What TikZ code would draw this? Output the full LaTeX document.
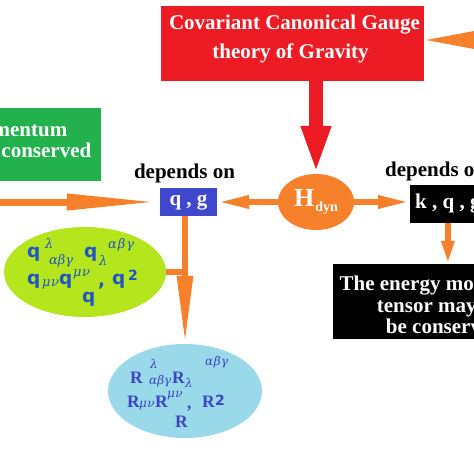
\documentclass[tikz,border=0pt]{standalone}
\usepackage{fontspec}
\setmainfont{Liberation Serif}
\newfontfamily\qf{DejaVu Sans}
\newfontfamily\gkf{DejaVu Serif}
\usetikzlibrary{arrows.meta,shapes.geometric}
\definecolor{cRed}{HTML}{ED1C24}
\definecolor{cOrg}{HTML}{F7802A}
\definecolor{cBlue}{HTML}{3F48CC}
\definecolor{cGreen}{HTML}{22B14C}
\definecolor{cLime}{HTML}{B5E61D}
\definecolor{cSky}{HTML}{99D9EA}
\definecolor{cQtxt}{HTML}{1F55C6}
\definecolor{cRtxt}{HTML}{3A46C4}
\tikzset{
  boxfont/.style={font=\bfseries\fontsize{21}{21}\selectfont},
  wtxt/.style={boxfont, text=white, inner sep=0pt},
  btxt/.style={boxfont, text=black, inner sep=0pt},
  orgline/.style={draw=cOrg, line width=6pt},
  orgarrow/.style={orgline, -{Triangle[length=32pt,width=12pt]}},
  qtx/.style={text=cQtxt, font=\qf\bfseries\fontsize{18.5}{18.5}\selectfont, inner sep=0pt, anchor=base west},
  qgk/.style={text=cQtxt, font=\gkf\itshape\fontsize{13}{13}\selectfont, inner sep=0pt, anchor=base west},
  qtwo/.style={text=cQtxt, font=\qf\bfseries\fontsize{14}{14}\selectfont, inner sep=0pt, anchor=base west},
  rtx/.style={text=cRtxt, font=\bfseries\fontsize{17.5}{17.5}\selectfont, inner sep=0pt, anchor=base west},
  rgk/.style={text=cRtxt, font=\gkf\itshape\fontsize{12}{12}\selectfont, inner sep=0pt, anchor=base west},
  rtwo/.style={text=cRtxt, font=\qf\bfseries\fontsize{14}{14}\selectfont, inner sep=0pt, anchor=base west},
}
\begin{document}
\begin{tikzpicture}[x=1pt,y=-1pt]
\useasboundingbox (0,0) rectangle (474,474);
\fill[white] (0,0) rectangle (474,474);
\clip (0,0) rectangle (474,474);

% boxes
\node[fill=cRed, minimum width=263pt, minimum height=75pt, inner sep=0pt] (ccgg) at (292.5,43.5) {};
\node[wtxt, anchor=base] (ccgt1) at (294.5,29) {Covariant Canonical Gauge};
\node[wtxt, anchor=base] (ccgt2) at (290.5,58.5) {theory of Gravity};

\node[fill=cGreen, minimum width=110pt, minimum height=73pt, inner sep=0pt] (gbox) at (46,144.5) {};
\node[wtxt, anchor=base east] (gt1) at (67.5,136) {momentum};
\node[wtxt, anchor=base east] (gt2) at (91.5,157) {is conserved};

\node[btxt, anchor=base] (dep1) at (184.5,178) {depends on};
\node[fill=cBlue, wtxt, minimum width=57pt, minimum height=28pt] (qg) at (188.5,202) {q , g};

\node[ellipse, fill=cOrg, minimum width=76pt, minimum height=56pt, inner sep=0pt,
      text=white, font=\bfseries\fontsize{26}{26}\selectfont] (hdyn) at (316,202)
      {H\kern1pt\raisebox{-5pt}{\fontsize{14}{14}\selectfont dyn}};

\node[btxt, anchor=base west] (dep2) at (385,176) {depends on};
\node[fill=black, wtxt, inner xsep=5pt, minimum height=38pt, anchor=west] (kqg) at (410,204) {k , q , g};

\node[fill=black, minimum width=222pt, minimum height=75pt, inner sep=0pt] (ebox) at (444,301.5) {};
\node[wtxt, anchor=base] (en1) at (444,290.5) {The energy momentum};
\node[wtxt, anchor=base] (en2) at (444,312) {tensor may not};
\node[wtxt, anchor=base] (en3) at (444,333.5) {be conserved};

\node[ellipse, fill=cLime, minimum width=162pt, minimum height=90pt, inner sep=0pt] (qell) at (85,272) {};
\node[ellipse, fill=cSky, minimum width=154pt, minimum height=94pt, inner sep=0pt] (rell) at (185,391) {};

% connectors
\draw[draw=cRed, line width=14pt, -{Triangle[length=48pt,width=27pt]}] (ccgg.south -| hdyn.north) -- (hdyn.north);
\coordinate (rstart) at (510,40);
\draw[orgline, -{Triangle[length=60pt,width=20pt]}] (rstart) -- (ccgg.east |- rstart);
\coordinate (lstart) at (-2,202);
\draw[draw=cOrg, line width=7pt, -{Triangle[length=93pt,width=15pt]}] (lstart) -- (qg.west);
\draw[orgarrow] (hdyn.west) -- (qg.east);
\draw[orgarrow] (hdyn.east) -- (kqg.west |- hdyn.east);
\draw[orgline, -{Triangle[length=23pt,width=12pt]}] (kqg.south) -- (kqg.south |- ebox.north);
\draw[orgline] (qell.east) -- (qell.east -| rell.north);
\draw[orgline, -{Triangle[length=68pt,width=15pt]}] (qg.south -| rell.north) -- (rell.north);

% q ellipse texts
\node[qtx] (qa1) at (27,257) {q};
\node[qgk] (qa2) at (45,248) {λ};
\node[qgk] (qa3) at (49,264) {αβγ};
\node[qtx] (qa4) at (84,257) {q};
\node[qgk] (qa5) at (99,265) {λ};
\node[qgk] (qa6) at (108,248) {α\kern1ptβ\kern1ptγ};
\node[qtx] (qb1) at (27,284) {q};
\node[qgk] (qb2) at (42,286) {μ\kern0.5ptν};
\node[qtx] (qb3) at (59,284) {q};
\node[qgk] (qb4) at (73,276) {μ\kern0.5ptν};
\node[qtx] (qb5) at (98,286) {,};
\node[qtx] (qb6) at (112,284) {q};
\node[qtwo] (qb7) at (128,280) {2};
\node[qtx] (qc1) at (82,302) {q};

% R ellipse texts
\node[rtx] (ra1) at (130,383) {R};
\node[rgk] (ra2) at (150,368) {λ};
\node[rgk] (ra3) at (149,384) {αβγ};
\node[rtx] (ra4) at (172,383) {R};
\node[rgk] (ra5) at (185,387) {λ};
\node[rgk] (ra6) at (205,365) {α\kern0.5ptβ\kern0.5ptγ};
\node[rtx] (rb1) at (127,407) {R};
\node[rgk] (rb2) at (139,407) {μ\kern0.5ptν};
\node[rtx] (rb3) at (155,407) {R};
\node[rgk] (rb4) at (167,397) {μ\kern0.5ptν};
\node[rtx] (rb5) at (187,408) {,};
\node[rtx] (rb6) at (202,407) {R};
\node[rtwo] (rb7) at (215,405) {2};
\node[rtx] (rc1) at (175,427) {R};
\end{tikzpicture}
\end{document}
